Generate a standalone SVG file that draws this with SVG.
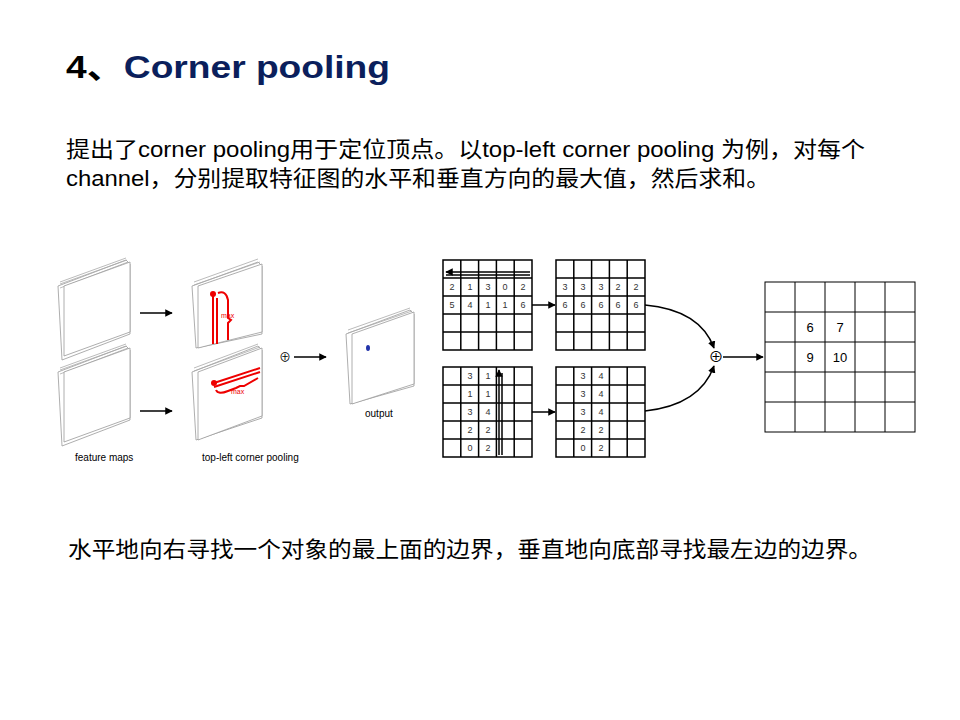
<svg xmlns="http://www.w3.org/2000/svg" width="960" height="720" viewBox="0 0 960 720">
<defs>
<marker id="ah" viewBox="0 0 10 10" refX="9" refY="5" markerWidth="5" markerHeight="5" orient="auto"><path d="M0,0 L10,5 L0,10 z" fill="#000"/></marker>
<path id="grid" d="M0,0 H89 V90 H0 Z M17.8,0 V90 M35.6,0 V90 M53.4,0 V90 M71.2,0 V90 M0,18 H89 M0,36 H89 M0,54 H89 M0,72 H89" fill="#fff" stroke="#000" stroke-width="1.5"/>
</defs>
<style>
.t{font-family:"Liberation Sans","Noto Sans CJK SC",sans-serif;fill:#000}
.n{font-family:"Liberation Sans",sans-serif;font-size:9px;text-anchor:middle;fill:#333}
.ln{stroke:#000;stroke-width:1.5;fill:none}
.pg{fill:#fff;stroke:#999;stroke-width:0.8}
.rd{stroke:#e00;stroke-width:2;fill:none}
</style>
<rect width="960" height="720" fill="#fff"/>
<text class="t" x="66" y="78" font-size="32" font-weight="bold" textLength="324" lengthAdjust="spacingAndGlyphs"><tspan>4、</tspan><tspan fill="#0b1f5c">Corner pooling</tspan></text>
<text class="t" x="66" y="157" font-size="22" textLength="799" lengthAdjust="spacingAndGlyphs">提出了corner pooling用于定位顶点。以top-left corner pooling 为例，对每个</text>
<text class="t" x="66" y="186" font-size="22" textLength="704" lengthAdjust="spacingAndGlyphs">channel，分别提取特征图的水平和垂直方向的最大值，然后求和。</text>
<text class="t" x="68" y="557" font-size="22" textLength="804" lengthAdjust="spacingAndGlyphs">水平地向右寻找一个对象的最上面的边界，垂直地向底部寻找最左边的边界。</text>

<g id="stacks">
<path class="pg" d="M58,286 L126,260 L130,264 L130,334 L62,360 Z"/>
<path d="M60,282 L126,258 M60,284 L127,260 M60,288 L128,262" stroke="#aaa" stroke-width="0.8"/>
<path class="pg" d="M64,286 L130,262 L130,332 L64,356 Z" stroke="#666"/>
<path class="pg" d="M58,372 L126,346 L130,350 L130,420 L62,446 Z"/>
<path d="M60,368 L126,344 M60,370 L127,346 M60,374 L128,348" stroke="#aaa" stroke-width="0.8"/>
<path class="pg" d="M64,372 L130,348 L130,418 L64,442 Z" stroke="#666"/>
<path class="pg" d="M192,286 L258,262 L262,266 L262,334 L196,348 Z"/>
<path d="M194,282 L258,259 M194,285 L260,262" stroke="#aaa" stroke-width="0.8"/>
<path class="pg" d="M198,286 L262,264 L262,332 L198,348 Z" stroke="#666"/>
<path class="pg" d="M192,372 L258,346 L262,350 L262,418 L196,440 Z"/>
<path d="M194,368 L258,344 M194,371 L260,347" stroke="#aaa" stroke-width="0.8"/>
<path class="pg" d="M198,372 L262,348 L262,416 L198,440 Z" stroke="#666"/>
<path class="pg" d="M346,334 L410,310 L414,314 L414,386 L350,404 Z"/>
<path d="M348,330 L410,308 M348,333 L412,311" stroke="#aaa" stroke-width="0.8"/>
<path class="pg" d="M352,334 L414,312 L414,384 L352,404 Z" stroke="#666"/>
<ellipse cx="368" cy="348" rx="2" ry="3" fill="#2233aa"/>
<circle cx="213" cy="294" r="3" fill="#e00"/>
<path class="rd" d="M213,294 V344 M217,298 V344"/>
<path class="rd" d="M218,293 Q226,290 228,300 V318 L231,320 L228,323 V340" stroke-width="1.2"/>
<text x="221" y="318" font-family="Liberation Sans,sans-serif" font-size="7" fill="#e00">max</text>
<circle cx="214" cy="383" r="3" fill="#e00"/>
<path class="rd" d="M214,383 L260,368 M214,387 L260,372"/>
<path class="rd" d="M216,390 Q218,395 228,391 L236,388 L240,386 L244,386 L258,378" stroke-width="1.2"/>
<text x="231" y="394" font-family="Liberation Sans,sans-serif" font-size="7" fill="#e00">max</text>
<text class="t" x="75" y="461" font-size="10">feature maps</text>
<text class="t" x="202" y="461" font-size="10">top-left corner pooling</text>
<text class="t" x="365" y="417" font-size="10">output</text>
<text class="t" x="279" y="362" font-size="12">⊕</text>
</g>

<g id="g1">
<use href="#grid" x="443" y="260"/>
<text class="n" x="452" y="290">2</text><text class="n" x="470" y="290">1</text><text class="n" x="488" y="290">3</text><text class="n" x="505" y="290">0</text><text class="n" x="523" y="290">2</text>
<text class="n" x="452" y="308">5</text><text class="n" x="470" y="308">4</text><text class="n" x="488" y="308">1</text><text class="n" x="505" y="308">1</text><text class="n" x="523" y="308">6</text>
</g>
<g id="g2">
<use href="#grid" x="556" y="260"/>
<text class="n" x="565" y="290">3</text><text class="n" x="583" y="290">3</text><text class="n" x="601" y="290">3</text><text class="n" x="618" y="290">2</text><text class="n" x="636" y="290">2</text>
<text class="n" x="565" y="308">6</text><text class="n" x="583" y="308">6</text><text class="n" x="601" y="308">6</text><text class="n" x="618" y="308">6</text><text class="n" x="636" y="308">6</text>
</g>
<g id="g3">
<use href="#grid" x="443" y="367"/>
<text class="n" x="470" y="379">3</text><text class="n" x="488" y="379">1</text>
<text class="n" x="470" y="397">1</text><text class="n" x="488" y="397">1</text>
<text class="n" x="470" y="415">3</text><text class="n" x="488" y="415">4</text>
<text class="n" x="470" y="433">2</text><text class="n" x="488" y="433">2</text>
<text class="n" x="470" y="451">0</text><text class="n" x="488" y="451">2</text>
</g>
<g id="g4">
<use href="#grid" x="556" y="367"/>
<text class="n" x="583" y="379">3</text><text class="n" x="601" y="379">4</text>
<text class="n" x="583" y="397">3</text><text class="n" x="601" y="397">4</text>
<text class="n" x="583" y="415">3</text><text class="n" x="601" y="415">4</text>
<text class="n" x="583" y="433">2</text><text class="n" x="601" y="433">2</text>
<text class="n" x="583" y="451">0</text><text class="n" x="601" y="451">2</text>
</g>
<g id="g5">
<rect x="765" y="282" width="150" height="150" fill="none" stroke="#000"/>
<path d="M795,282 V432 M825,282 V432 M855,282 V432 M885,282 V432 M765,312 H915 M765,342 H915 M765,372 H915 M765,402 H915" stroke="#000" stroke-width="1" fill="none"/>
<text class="t" x="810" y="332" font-size="13" text-anchor="middle">6</text>
<text class="t" x="840" y="332" font-size="13" text-anchor="middle">7</text>
<text class="t" x="810" y="362" font-size="13" text-anchor="middle">9</text>
<text class="t" x="840" y="362" font-size="13" text-anchor="middle">10</text>
</g>
<g id="connectors">
<path class="ln" d="M140,313 H172" marker-end="url(#ah)"/>
<path class="ln" d="M140,411 H172" marker-end="url(#ah)"/>
<path class="ln" d="M294,357 H326" marker-end="url(#ah)"/>
<path class="ln" d="M530,272 H446" marker-end="url(#ah)"/>
<path class="ln" d="M530,275 H446"/>
<path class="ln" d="M499,455 V370" marker-end="url(#ah)"/>
<path class="ln" d="M502,455 V373"/>
<path class="ln" d="M532,305 H555" marker-end="url(#ah)"/>
<path class="ln" d="M532,412 H555" marker-end="url(#ah)"/>
<path class="ln" d="M645,305 Q700,310 714,348" marker-end="url(#ah)"/>
<path class="ln" d="M645,411 Q700,405 714,366" marker-end="url(#ah)"/>
<path class="ln" d="M723,357 H763" marker-end="url(#ah)"/>
<text class="t" x="716" y="362" font-size="15" text-anchor="middle">⊕</text>
</g>
</svg>
